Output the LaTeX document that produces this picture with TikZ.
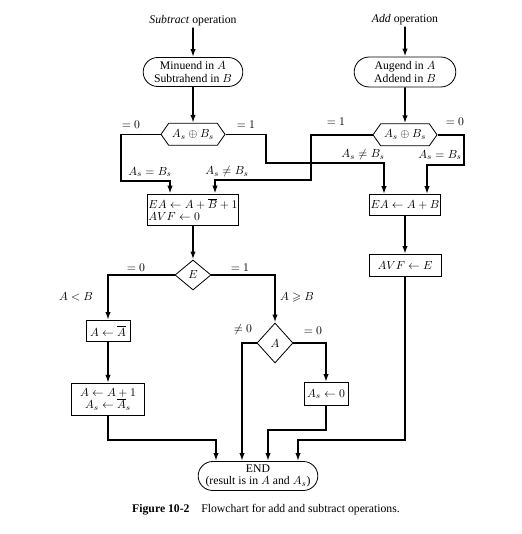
\documentclass[tikz,border=0pt]{standalone}
\usepackage{amsmath}
\usepackage{amssymb}
\usepackage{fontspec}
\setmainfont{Liberation Serif}
\usetikzlibrary{arrows.meta,positioning,shapes.geometric,shapes.misc,shapes.symbols}
\newcommand{\fsz}{\fontsize{10}{10.5}\selectfont}

\begin{document}
\begin{tikzpicture}[x=0.03cm, y=-0.03cm,
  blk/.style={draw, line width=0.7pt, inner sep=1pt, align=center, font=\fsz},
  term/.style={draw, line width=0.7pt, rounded rectangle, inner sep=1pt, align=center, font=\fsz},
  hex/.style={draw, line width=0.7pt, signal, signal to=east and west, signal pointer angle=110,
              minimum width=1.92cm, minimum height=0.66cm, inner sep=0pt, font=\fsz},
  dec/.style={draw, line width=0.7pt, diamond, inner sep=0pt, font=\fsz},
  lbl/.style={font=\fsz, inner sep=1pt},
  arr/.style={-{Latex[length=2.4mm,width=1.6mm]}, line width=1.35pt}
]
  \useasboundingbox (0,0) rectangle (521,534);

  % left column: subtract
  \node[lbl] (sub) at (193,21) {\textit{Subtract} operation};
  \node[term, minimum width=3.06cm, minimum height=0.87cm] (minu) at (193,72) {Minuend in $A$\\Subtrahend in $B$};
  \node[hex, below=1.08cm of minu] (hexL) {$A_s \oplus B_s$};
  \node[blk, align=left, minimum width=2.7cm, minimum height=0.93cm, below=1.44cm of hexL] (boxL)
       {$EA \leftarrow A + \overline{B} + 1$\\$AVF \leftarrow 0$};
  \node[dec, minimum width=1.08cm, minimum height=0.9cm, below=1.02cm of boxL] (dE) {$E$};

  % right column: add
  \node[lbl] (add) at (405,20) {\textit{Add} operation};
  \node[term, minimum width=3.12cm, minimum height=0.9cm] (aug) at (405,72) {Augend in $A$\\Addend in $B$};
  \node[hex, below=1.08cm of aug] (hexR) {$A_s \oplus B_s$};
  \node[blk, minimum width=2.13cm, minimum height=0.63cm, below=1.44cm of hexR] (boxR) {$EA \leftarrow A + B$};
  \node[blk, minimum width=2.16cm, minimum height=0.66cm, below=1.14cm of boxR] (avf) {$AVF \leftarrow E$};

  % lower part
  \node[blk, minimum width=1.32cm, minimum height=0.63cm] (negA) at (108,331) {$A \leftarrow \overline{A}$};
  \node[blk, minimum width=2.19cm, minimum height=0.96cm, below=1.23cm of negA] (inc)
       {$A \leftarrow A + 1$\\$A_s \leftarrow \overline{A}_s$};
  \node[dec, minimum width=1.08cm, minimum height=1.2cm] (dA) at (275,343) {$A$};
  \node[blk, minimum width=1.32cm, minimum height=0.69cm] (asz) at (326,394) {$A_s \leftarrow 0$};
  \node[term, minimum width=3.66cm, minimum height=0.87cm] (endn) at (258,476)
       {END\\(result is in $A$ and $A_s$)};

  % branch labels
  \node[lbl] (l1) at (131,125) {$=0$};
  \node[lbl] (l2) at (246,125) {$=1$};
  \node[lbl] (l3) at (150,172) {$A_s = B_s$};
  \node[lbl] (l4) at (227,172) {$A_s \neq B_s$};
  \node[lbl] (l5) at (336,122) {$=1$};
  \node[lbl] (l6) at (455,122) {$=0$};
  \node[lbl] (l7) at (363,155) {$A_s \neq B_s$};
  \node[lbl] (l8) at (440,155) {$A_s = B_s$};
  \node[lbl] (l9) at (136,268) {$=0$};
  \node[lbl] (l10) at (240,268) {$=1$};
  \node[lbl] (l11) at (76,297) {$A < B$};
  \node[lbl] (l12) at (297,297) {$A \geqslant B$};
  \node[lbl] (l13) at (243,330) {$\neq 0$};
  \node[lbl] (l14) at (313,331) {$=0$};

  % connectors
  \draw[arr] (sub) -- (minu);
  \draw[arr] (minu) -- (hexL);
  \draw[arr] (add) -- (aug);
  \draw[arr] (aug) -- (hexR);
  \draw[arr] (hexL.west) -| (121,181) -| ([xshift=-0.69cm]boxL.north);
  \draw[arr] (hexL.east) -| (266,163) -| ([xshift=-0.63cm]boxR.north);
  \draw[arr] (hexR.west) -| (311,180) -| ([xshift=0.66cm]boxL.north);
  \draw[arr] (hexR.east) -| (464,165) -| ([xshift=0.66cm]boxR.north);
  \draw[arr] (boxR) -- (avf);
  \draw[arr] (boxL) -- (dE);
  \draw[arr] (dE.west) -| (negA.north);
  \draw[arr] (dE.east) -| (dA.north);
  \draw[arr] (negA) -- (inc);
  \draw[arr] (dA.east) -| (asz.north);
  \draw[arr] (dA.west) -| ([xshift=-0.48cm]endn.north);
  \draw[arr] (inc.south) |- (216,440) -- ([xshift=-1.26cm]endn.north);
  \draw[arr] (asz.south) |- (268,430) -- ([xshift=0.3cm]endn.north);
  \draw[arr] (avf.south) |- (298,440) -- ([xshift=1.2cm]endn.north);

  % caption
  \node[lbl] (cap) at (266,510) {\textbf{Figure 10-2}\quad Flowchart for add and subtract operations.};
\end{tikzpicture}
\end{document}
